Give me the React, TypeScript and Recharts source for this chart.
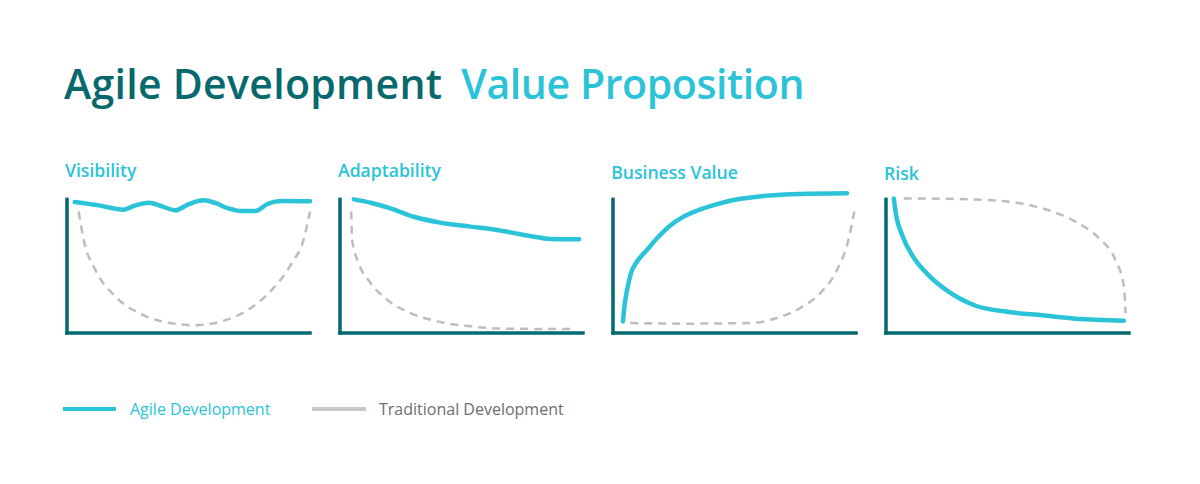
import React from "react";
import { LineChart, Line, XAxis, YAxis, ReferenceLine } from "recharts";

const AGILE = "#2ac3d8";
const TRAD = "#bdbdbd";
const AXIS = "#006a70";
const DARK = "#07696e";
const FONT = "'Open Sans', 'Noto Sans', sans-serif";

// x: 0 = vertical axis, 100 = end of horizontal axis
// y: 0 = horizontal axis, 100 = top of vertical axis
const panelTitles = ["Visibility", "Adaptability", "Business Value", "Risk"];

const visibilityAgile = [
  { x: 3.2, y: 98.0 }, { x: 13.1, y: 95.5 }, { x: 23.3, y: 92.3 }, { x: 28.1, y: 95.5 },
  { x: 33.6, y: 97.5 }, { x: 39.1, y: 94.8 }, { x: 44.6, y: 91.8 }, { x: 50.0, y: 96.3 },
  { x: 56.2, y: 99.3 }, { x: 61.0, y: 97.3 }, { x: 66.4, y: 93.2 }, { x: 72.0, y: 91.2 },
  { x: 77.4, y: 91.2 }, { x: 82.9, y: 96.9 }, { x: 88.4, y: 98.8 }, { x: 100, y: 98.6 },
];
const visibilityTraditional = [
  { x: 4.8, y: 90.9 }, { x: 6.9, y: 69.5 }, { x: 11.7, y: 47.2 }, { x: 19.9, y: 27.3 },
  { x: 30.9, y: 13.8 }, { x: 41.8, y: 7.6 }, { x: 52.8, y: 5.8 }, { x: 63.7, y: 8.8 },
  { x: 74.7, y: 17.5 }, { x: 84.3, y: 32.3 }, { x: 92.5, y: 52.2 }, { x: 97.3, y: 69.5 },
  { x: 100, y: 90.9 },
];

const adaptabilityAgile = [
  { x: 5.7, y: 100 }, { x: 12.6, y: 97.5 }, { x: 20.8, y: 93.3 }, { x: 30.4, y: 87.0 },
  { x: 41.2, y: 82.6 }, { x: 53.6, y: 79.6 }, { x: 64.7, y: 77.1 }, { x: 75.7, y: 73.4 },
  { x: 86.7, y: 70.4 }, { x: 98.4, y: 70.1 },
];
const adaptabilityTraditional = [
  { x: 4.6, y: 90.9 }, { x: 5.0, y: 69.6 }, { x: 7.7, y: 52.2 }, { x: 12.6, y: 37.3 },
  { x: 19.4, y: 24.9 }, { x: 29.0, y: 14.9 }, { x: 40.0, y: 8.7 }, { x: 53.6, y: 5.0 },
  { x: 68.9, y: 3.2 }, { x: 94.8, y: 3.0 },
];

const businessAgile = [
  { x: 4.1, y: 8.7 }, { x: 4.7, y: 19.9 }, { x: 5.8, y: 32.3 }, { x: 7.4, y: 44.8 },
  { x: 9.9, y: 53.5 }, { x: 14.0, y: 62.2 }, { x: 18.8, y: 72.2 }, { x: 23.6, y: 80.5 },
  { x: 28.5, y: 86.5 }, { x: 34.5, y: 91.5 }, { x: 42.8, y: 96.5 }, { x: 52.4, y: 100.4 },
  { x: 63.4, y: 102.8 }, { x: 77.1, y: 104.0 }, { x: 96.3, y: 104.5 },
];
const businessTraditional = [
  { x: 7.1, y: 7.5 }, { x: 29.1, y: 7.0 }, { x: 56.5, y: 7.5 }, { x: 67.5, y: 11.2 },
  { x: 77.0, y: 18.7 }, { x: 85.3, y: 29.9 }, { x: 92.2, y: 47.3 }, { x: 96.9, y: 69.7 },
  { x: 99.3, y: 90.9 },
];

const riskAgile = [
  { x: 3.2, y: 100.7 }, { x: 4.2, y: 87.9 }, { x: 6.7, y: 73.0 }, { x: 10.8, y: 58.1 },
  { x: 17.6, y: 43.1 }, { x: 25.9, y: 30.7 }, { x: 36.9, y: 20.4 }, { x: 50.6, y: 15.7 },
  { x: 64.3, y: 13.2 }, { x: 78.0, y: 10.7 }, { x: 97.9, y: 9.2 },
];
const riskTraditional = [
  { x: 7.3, y: 100.7 }, { x: 30.0, y: 100.2 }, { x: 50.6, y: 98.2 }, { x: 64.3, y: 93.3 },
  { x: 78.0, y: 83.3 }, { x: 87.6, y: 70.9 }, { x: 94.4, y: 54.7 }, { x: 97.9, y: 34.8 },
  { x: 98.6, y: 14.9 },
];

const panels = [
  { title: panelTitles[0], agile: visibilityAgile, trad: visibilityTraditional, left: 66.5, titleTop: 161.5 },
  { title: panelTitles[1], agile: adaptabilityAgile, trad: adaptabilityTraditional, left: 339.5, titleTop: 161.5 },
  { title: panelTitles[2], agile: businessAgile, trad: businessTraditional, left: 612.7, titleTop: 163.5 },
  { title: panelTitles[3], agile: riskAgile, trad: riskTraditional, left: 885.5, titleTop: 164.5 },
];

const M = 10;
const PLOT_W = 243;
const PLOT_H = 147;

const Panel = ({ p }: { p: (typeof panels)[number] }) => (
  <>
    <div
      style={{
        position: "absolute",
        left: p.left - 1.5,
        top: p.titleTop,
        fontSize: 17.6,
        lineHeight: 1,
        fontWeight: 600,
        color: AGILE,
        fontFamily: FONT,
        whiteSpace: "nowrap",
      }}
    >
      {p.title}
    </div>
    <LineChart
      width={PLOT_W + 2 * M}
      height={PLOT_H + 2 * M}
      margin={{ top: M, right: M, bottom: M, left: M }}
      style={{ position: "absolute", left: p.left - M, top: 333.3 - PLOT_H - M }}
    >
      <XAxis type="number" dataKey="x" domain={[0, 100]} hide />
      <YAxis type="number" dataKey="y" domain={[0, 110]} hide />
      <ReferenceLine
        segment={[{ x: 0, y: 0 }, { x: 0, y: 100 }]}
        stroke={AXIS}
        strokeWidth={3.5}
        strokeLinecap="square"
      />
      <ReferenceLine
        segment={[{ x: 0, y: 0 }, { x: 100, y: 0 }]}
        stroke={AXIS}
        strokeWidth={3.5}
        strokeLinecap="square"
      />
      <Line
        data={p.trad}
        dataKey="y"
        type="monotone"
        stroke={TRAD}
        strokeWidth={2.5}
        strokeDasharray="8 6"
        dot={false}
        activeDot={false}
        isAnimationActive={false}
      />
      <Line
        data={p.agile}
        dataKey="y"
        type="monotone"
        stroke={AGILE}
        strokeWidth={4.5}
        strokeLinecap="round"
        dot={false}
        activeDot={false}
        isAnimationActive={false}
      />
    </LineChart>
  </>
);

export default function App() {
  return (
    <div
      style={{
        position: "absolute",
        left: 0,
        top: 0,
        width: 1200,
        height: 484,
        background: "#fff",
        fontFamily: FONT,
        overflow: "hidden",
      }}
    >
      <div
        style={{
          position: "absolute",
          left: 64,
          top: 63,
          fontSize: 41,
          lineHeight: 1,
          fontWeight: 600,
          whiteSpace: "nowrap",
        }}
      >
        <span style={{ color: DARK, letterSpacing: 0.3 }}>Agile Development</span>
        <span style={{ color: AGILE, marginLeft: 19, letterSpacing: -0.4 }}>Value Proposition</span>
      </div>

      {panels.map((p) => (
        <Panel key={p.title} p={p} />
      ))}

      <div style={{ position: "absolute", left: 63, top: 407, width: 53, height: 3.5, background: AGILE }} />
      <div
        style={{
          position: "absolute",
          left: 130,
          top: 401,
          fontSize: 16,
          lineHeight: 1,
          fontWeight: 500,
          color: AGILE,
          whiteSpace: "nowrap",
        }}
      >
        Agile Development
      </div>
      <div style={{ position: "absolute", left: 312, top: 407, width: 54, height: 3.5, background: "#c6c6c6" }} />
      <div
        style={{
          position: "absolute",
          left: 379,
          top: 401,
          fontSize: 16,
          lineHeight: 1,
          fontWeight: 500,
          color: "#6e6e6e",
          whiteSpace: "nowrap",
        }}
      >
        Traditional Development
      </div>
    </div>
  );
}
